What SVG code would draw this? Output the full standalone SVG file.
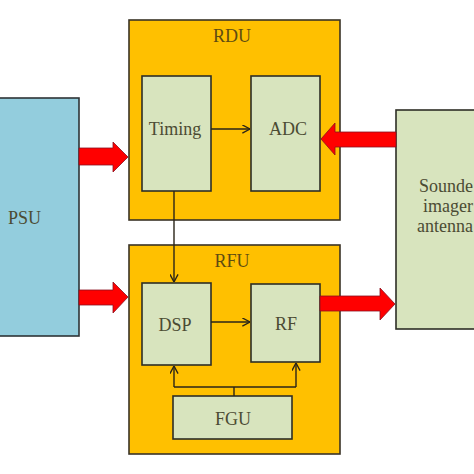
<svg xmlns="http://www.w3.org/2000/svg" width="474" height="474" viewBox="0 0 474 474">
<style>
.unit{fill:#FFC000;stroke:#3a3326;stroke-width:1.6}
.blk{fill:#D8E4BE;stroke:#2e2e26;stroke-width:1.6}
.psu{fill:#93CDDD;stroke:#2e3436;stroke-width:1.6}
.lbl{font-family:"Liberation Serif","DejaVu Serif",serif;font-size:18px;fill:#4b4b33}
.ulbl{font-family:"Liberation Serif","DejaVu Serif",serif;font-size:18px;fill:#5e4c12}
.ln{fill:none;stroke:#2a2418;stroke-width:1.4}
.big{fill:#FF0000;stroke:#8a1020;stroke-width:0.8}
</style>
<defs>
<marker id="ah" viewBox="0 0 10 10" refX="9.5" refY="5" markerWidth="9" markerHeight="9" markerUnits="userSpaceOnUse" orient="auto">
<path d="M1,0.5 L9.5,5 L1,9.5" fill="none" stroke="#2a2418" stroke-width="1.5"/>
</marker>
</defs>
<rect width="474" height="474" fill="#ffffff"/>
<g id="psu"><rect class="psu" x="-2" y="98" width="81" height="238"/><text class="lbl" x="8" y="224">PSU</text></g>
<g id="sounder"><rect class="blk" x="396" y="110" width="84" height="219"/>
<text class="lbl" x="419" y="192">Sounde</text>
<text class="lbl" x="423" y="212">imager</text>
<text class="lbl" x="417" y="232">antenna</text></g>
<g id="rdu"><rect class="unit" x="129" y="20" width="211" height="200"/><text class="ulbl" x="232" y="42" text-anchor="middle">RDU</text></g>
<g id="rfu"><rect class="unit" x="129" y="245" width="211" height="209"/><text class="ulbl" x="232" y="267" text-anchor="middle">RFU</text></g>
<g id="timing"><rect class="blk" x="142" y="76" width="69" height="115"/><text class="lbl" x="175" y="135" text-anchor="middle">Timing</text></g>
<g id="adc"><rect class="blk" x="251" y="76" width="69" height="115"/><text class="lbl" x="288" y="135" text-anchor="middle">ADC</text></g>
<g id="dsp"><rect class="blk" x="142" y="283" width="69" height="82"/><text class="lbl" x="175" y="331" text-anchor="middle">DSP</text></g>
<g id="rf"><rect class="blk" x="251" y="284" width="69" height="78"/><text class="lbl" x="286" y="330" text-anchor="middle">RF</text></g>
<g id="fgu"><rect class="blk" x="173" y="396" width="119" height="43"/><text class="lbl" x="233" y="425" text-anchor="middle">FGU</text></g>
<g id="connectors">
<line class="ln" x1="211" y1="129" x2="250" y2="129" marker-end="url(#ah)"/>
<line class="ln" x1="174" y1="191" x2="174" y2="282" marker-end="url(#ah)"/>
<line class="ln" x1="211" y1="322" x2="250" y2="322" marker-end="url(#ah)"/>
<line class="ln" x1="234" y1="396" x2="234" y2="387"/>
<polyline class="ln" points="174,387 296,387"/>
<line class="ln" x1="174" y1="387" x2="174" y2="366" marker-end="url(#ah)"/>
<line class="ln" x1="296" y1="387" x2="296" y2="363" marker-end="url(#ah)"/>
<polygon class="big" points="79,148 113,148 113,142 128,157 113,172 113,165 79,165"/>
<polygon class="big" points="79,290 113,290 113,282 128,297 113,313 113,305 79,305"/>
<polygon class="big" points="396,132 335,132 335,123 321,139 335,155 335,147 396,147"/>
<polygon class="big" points="320,296 380,296 380,288 395,304 380,320 380,311 320,311"/>
</g>
</svg>
